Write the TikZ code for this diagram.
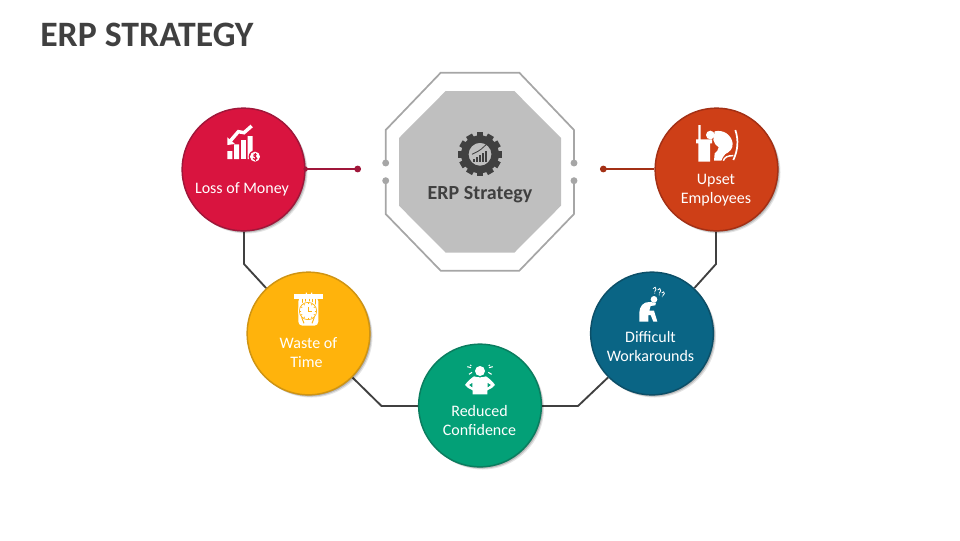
\documentclass[tikz,border=0pt]{standalone}
\usepackage{fontspec}
\setmainfont{Carlito}
\usetikzlibrary{shadows,arrows.meta,backgrounds}
\definecolor{ink}{HTML}{404040}
\definecolor{corefill}{HTML}{BFBFBF}
\definecolor{frameline}{HTML}{A6A6A6}
\definecolor{redf}{HTML}{D9143F}\definecolor{redl}{HTML}{A0173A}
\definecolor{oraf}{HTML}{CE3F17}\definecolor{oral}{HTML}{A33015}
\definecolor{yelf}{HTML}{FFB30C}\definecolor{yell}{HTML}{CF9413}
\definecolor{grnf}{HTML}{03A077}\definecolor{grnl}{HTML}{0A7D5F}
\definecolor{bluf}{HTML}{0A6585}\definecolor{blul}{HTML}{0C4F68}
\tikzset{
  disc/.style={circle,minimum size=92pt,inner sep=0pt,line width=1.1pt,
    drop shadow={shadow xshift=.6pt,shadow yshift=-.6pt,fill=black,opacity=.16},
    drop shadow={shadow xshift=1.3pt,shadow yshift=-1.3pt,fill=black,opacity=.16},
    drop shadow={shadow xshift=2pt,shadow yshift=-2pt,fill=black,opacity=.10}},
  label/.style={text=white,font=\fontsize{12}{14.25}\selectfont,align=center,inner sep=0pt},
  link/.style={draw=ink,line width=1.4pt,line join=round},
  zoomat/.style={shift={(#1)},x=.25pt,y=-.25pt},
  frame/.style={draw=frameline,line width=1.3pt,line join=miter},
  knob/.style={fill=frameline},
}
\begin{document}
\begin{tikzpicture}[x=.75pt,y=-.75pt]
\useasboundingbox (0,0) rectangle (960,540);
\node[anchor=base west,inner sep=0pt,text=ink,font=\fontsize{26.8}{30}\selectfont\bfseries] (title) at (40,46) {ERP STRATEGY};

% centre
\fill[corefill] (445.7,91) -- (514.3,91) -- (561,138) -- (561,205.7) -- (514.3,252.7) -- (445.7,252.7) -- (399,205.7) -- (399,138) -- cycle;
\draw[frame] (385.7,163) -- (385.7,130) -- (440.7,72.7) -- (519.3,72.7) -- (574,130) -- (574,163);
\draw[frame] (385.7,180.7) -- (385.7,214) -- (440.7,270.7) -- (519.3,270.7) -- (574,214) -- (574,180.7);
\foreach \px/\py in {385.7/163,385.7/180.7,574/163,574/180.7}
  \fill[knob] (\px,\py) circle[radius=2.6pt];
\node[text=ink,inner sep=0pt,font=\fontsize{15}{18}\selectfont\bfseries] (core) at (480,194.5) {ERP Strategy};

% gear
\begin{scope}[shift={(480,154.3)}]
  \foreach \a in {0,30,...,330}
    \fill[ink,rotate=\a] (-3.4,-22) rectangle (3.4,-15);
  \fill[ink,even odd rule] (0,0) circle[radius=14.2pt] (0,0) circle[radius=8.6pt];
  \foreach \bx/\bh in {-7/3,-4/5,-1/7,2/9,5/11}
    \fill[ink] (\bx,7.5) rectangle ({\bx+2},{7.5-\bh});
  \draw[ink,line width=.6pt] (-8,0) -- (-2,-3) -- (1,-5) -- (6,-9.5);
\end{scope}

% discs
\node[disc,fill=redf,draw=redl] (loss) at (243.5,169.5) {};
\node[disc,fill=oraf,draw=oral] (upset) at (716.5,169.5) {};
\node[disc,fill=yelf,draw=yell] (waste) at (308.5,333.5) {};
\node[disc,fill=grnf,draw=grnl] (reduced) at (480,405.5) {};
\node[disc,fill=bluf,draw=blul] (difficult) at (652,333.5) {};

\node[label] (lossT) at (242,189) {Loss of Money};
\node[label] (upsetT) at (716,190) {Upset\\Employees};
\node[label] (wasteT) at (308.5,352.5) {Waste of\\Time\hspace*{3pt}};
\node[label] (reducedT) at (479.5,420.5) {Reduced\\Confidence};
\node[label] (difficultT) at (650.5,346.5) {Difficult\\Workarounds};

% connectors
\coordinate (lossEnd) at (361,169);
\coordinate (upsetEnd) at (600,169);
\coordinate (b1) at (244,264);
\coordinate (b2) at (381.5,406);
\coordinate (b3) at (578,406);
\coordinate (b4) at (716,264);
\begin{scope}[on background layer]
  \draw[link] (loss.south -| b1) -- (b1) -- (waste.133);
  \draw[link] (waste.-45) -- (b2) -- (reduced.west |- b2);
  \draw[link] (reduced.east |- b3) -- (b3) -- (difficult.-135);
  \draw[link] (difficult.47) -- (b4) -- (upset.south -| b4);
\end{scope}
\draw[redl,line width=1.4pt,{Circle[length=3.5pt,width=3.5pt]}-{Circle[length=5pt,width=5pt]},shorten <=-1.5pt] (loss.east |- lossEnd) -- (lossEnd);
\draw[oral,line width=1.4pt,{Circle[length=5pt,width=5pt]}-] (upsetEnd) -- (upset.west |- upsetEnd);

% icon: loss of money
\begin{scope}[zoomat={170,100}]
  \fill[white] (172,153) rectangle (187,177) (192,133) rectangle (207,177) (233,108) rectangle (248,177);
  \fill[white] (212,120) rectangle (228,177);
  \draw[white,line width=2.6pt] (245,78) -- (222,98) -- (205,95) -- (180,124);
  \fill[white] (172,112) -- (172,135) -- (195,132) -- cycle;
  \fill[redf] (255,170) circle[radius=19];
  \fill[white] (255,170) circle[radius=15];
  \draw[redf,line width=.9pt] (260,164) .. controls (254,160) and (249,164) .. (252,168) .. controls (254,171) and (262,171) .. (260,176) .. controls (257,180) and (251,178) .. (249,175);
  \draw[redf,line width=.6pt] (255,158) -- (255,182);
\end{scope}

% icon: upset employees
\begin{scope}[zoomat={590,100}]
  \fill[white] (325,75) rectangle (332,118) (318,118) rectangle (366,130) (325,130) rectangle (360,185);
  \fill[white] (361,105) circle[radius=13];
  \fill[white] (374,94) .. controls (400,88) and (424,104) .. (428,130) .. controls (429,148) and (418,156) .. (406,162) .. controls (400,168) and (396,176) .. (394,182) -- (372,182) -- (374,160) .. controls (380,154) and (386,150) .. (386,142) .. controls (378,136) and (372,130) .. (370,120) -- cycle;
  \draw[white,line width=1.3pt] (436,90) .. controls (446,120) and (444,150) .. (430,180);
  \draw[white,line width=1.1pt] (400,182) .. controls (403,172) and (414,166) .. (430,167);
\end{scope}

% icon: waste of time
\begin{scope}[zoomat={235,260}]
  \draw[white,line width=.8pt] (213,98) arc[start angle=180,end angle=0,radius=9];
  \fill[white] (178,102) rectangle (265,116);
  \fill[white,rounded corners=3pt] (190,112) rectangle (250,197);
  \foreach \sx in {202,212,222,232,240}
    \draw[yelf,line width=.7pt] (\sx,116) -- (\sx,135);
  \fill[white] (219,153) circle[radius=30];
  \draw[yelf,line width=.5pt] (219,153) circle[radius=26];
  \foreach \a in {0,30,...,330}
    \draw[yelf,line width=.5pt] (219,153) ++(\a:20) -- ++(\a:5);
  \draw[yelf,line width=.7pt] (219,153) -- (219,140) (219,153) -- (230,153);
  \draw[yelf,line width=.7pt] (200,172) -- (207,190) (238,172) -- (231,190);
\end{scope}

% icon: reduced confidence
\begin{scope}[zoomat={410,335}]
  \fill[white] (210,108) circle[radius=15];
  \fill[white,even odd rule] (192,124) .. controls (205,128) and (215,128) .. (228,124) .. controls (238,130) and (250,142) .. (255,150) .. controls (250,158) and (240,162) .. (232,166) -- (232,178) -- (188,178) -- (188,166) .. controls (180,162) and (170,158) .. (165,150) .. controls (170,142) and (182,130) .. (192,124) -- cycle
    (187,143) -- (187,158) -- (177,150) -- cycle
    (233,143) -- (233,158) -- (243,150) -- cycle;
  \draw[white,line width=.8pt] (172,95) -- (183,98) (177,118) -- (186,112) (248,95) -- (237,98) (245,118) -- (235,112) (180,90) -- (184,92) (240,90) -- (236,92);
\end{scope}

% icon: difficult workarounds
\begin{scope}[zoomat={580,260}]
  \fill[white] (222,118) circle[radius=10];
  \fill[white] (178,158) .. controls (178,140) and (190,125) .. (208,126) -- (228,128) -- (226,136) -- (212,138) -- (208,152) -- (222,152) -- (232,185) -- (220,185) -- (212,165) -- (205,165) -- (205,185) -- (178,185) -- cycle;
  \draw[white,line width=.6pt] (219,86) .. controls (221,79) and (231,81) .. (228,88) .. controls (226,91) and (224,92) .. (224,95) (224,98) -- (224,101);
  \draw[white,line width=.6pt] (233,90) .. controls (235,83) and (245,85) .. (242,92) .. controls (240,95) and (238,96) .. (238,100) (238,103) -- (238,106);
  \draw[white,line width=.6pt] (245,99) .. controls (247,93) and (256,95) .. (253,101) .. controls (251,103) and (249,104) .. (248,107) (247,109) -- (247,111);
\end{scope}
\end{tikzpicture}
\end{document}
